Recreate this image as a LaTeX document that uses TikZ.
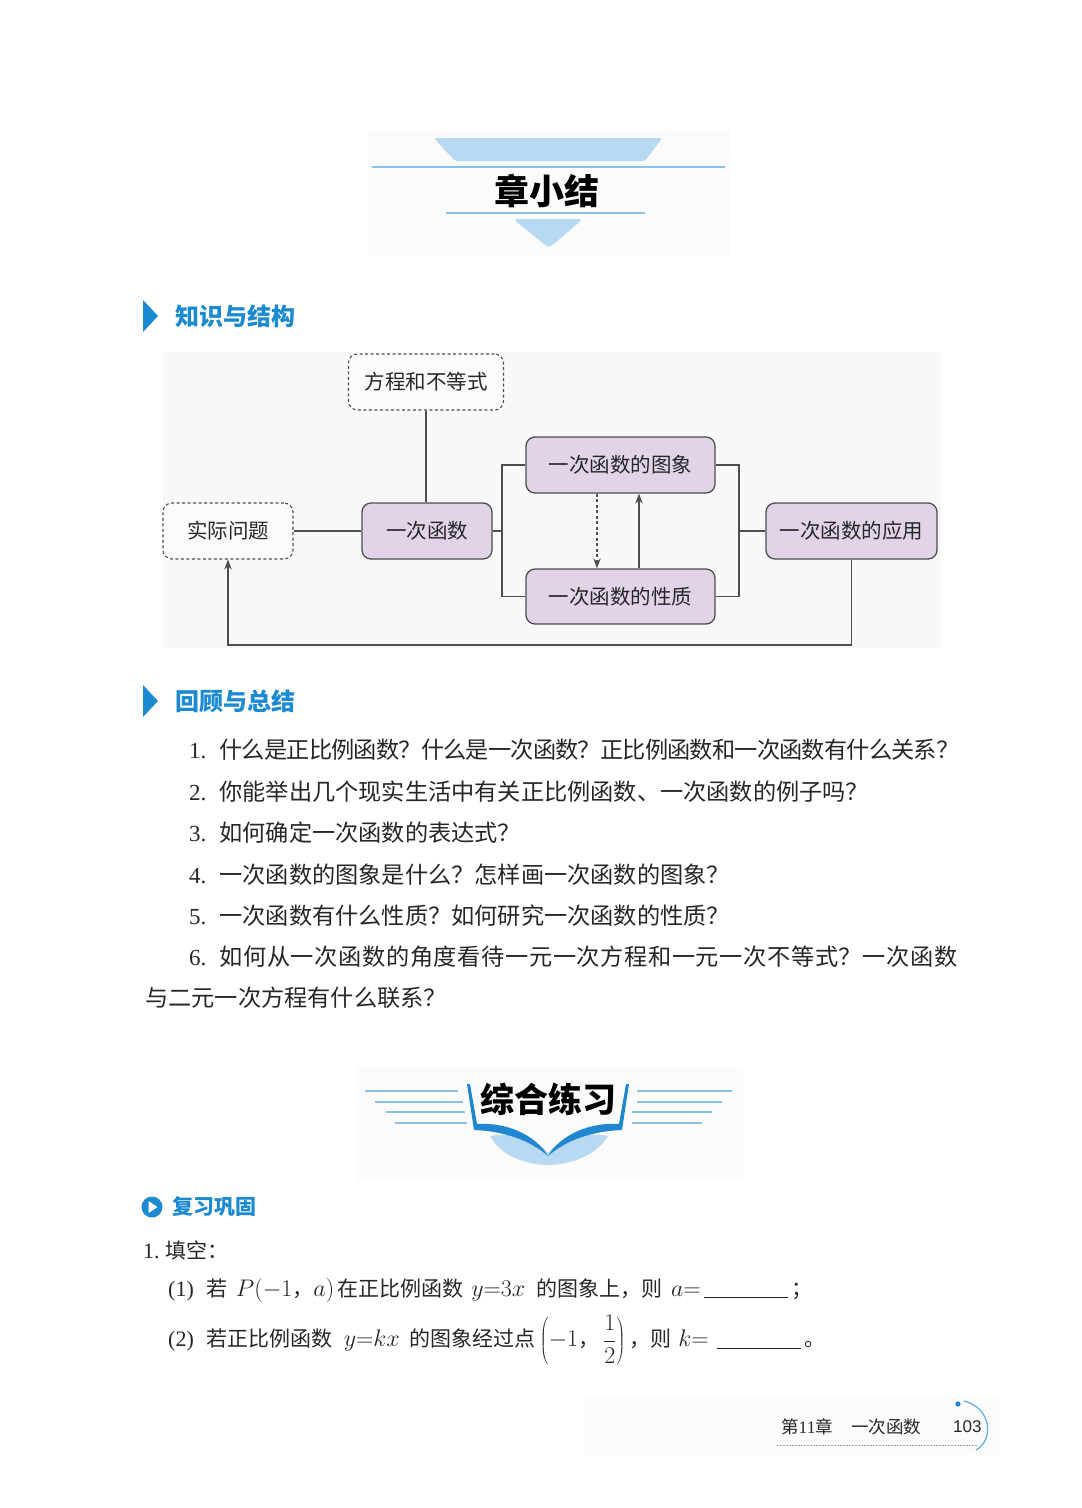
\RequirePackage{fix-cm}
\documentclass[tikz,border=0pt]{standalone}
\usepackage{fontspec}
\setmainfont{Liberation Serif}
\newfontfamily\cjk{Noto Sans CJK SC}
\newfontfamily\lsans{Liberation Sans}
\usetikzlibrary{arrows.meta}
\definecolor{headblue}{HTML}{1B8AD0}
\definecolor{bannerblue}{HTML}{B7D9F1}
\definecolor{lineblue}{HTML}{86C2E8}
\definecolor{bookblue}{HTML}{1E87CF}
\definecolor{boxpurple}{HTML}{E1D3E8}
\definecolor{edgegray}{HTML}{4E4E4E}
\definecolor{diagbg}{HTML}{F8F8F8}
\definecolor{faintbg}{HTML}{FBFBFB}
\definecolor{textcol}{HTML}{262626}
\def\spreadit#1{\spreadB#1\relax}
\def\spreadB#1{#1\spreadC}
\def\spreadC#1{\ifx#1\relax\else\hskip 0pt plus 1fil minus 1fil#1\expandafter\spreadC\fi}
\newcommand\mth[1]{{\fontsize{24}{28}\selectfont$#1$}}
\newcommand\num[1]{{\rmfamily\fontsize{23}{27}\selectfont #1}}
\begin{document}
\begin{tikzpicture}[x=1pt,y=-1pt,
  box/.style={draw=edgegray, fill=boxpurple, rounded corners=9pt, line width=1.3pt,
    minimum height=56pt, inner sep=0pt, font=\fontsize{20.5}{24}\selectfont\cjk, text=textcol},
  dbox/.style={draw=edgegray, dash pattern=on 3pt off 2.5pt, rounded corners=9pt, line width=1.1pt,
    fill=white!50!diagbg, minimum height=56pt, inner sep=0pt, font=\fontsize{20.5}{24}\selectfont\cjk, text=textcol},
  conn/.style={draw=edgegray, line width=1.1pt},
  tip/.style={-{Stealth[length=10pt,width=7.5pt]}},
  secmark/.style={fill=headblue},
  sectitle/.style={anchor=west, inner sep=0pt, text=headblue, font=\fontsize{24}{27}\selectfont\cjk\bfseries},
  bodyline/.style={anchor=west, inner sep=0pt, text=textcol, font=\fontsize{23.2}{27}\selectfont\cjk},
  qline/.style={anchor=west, inner sep=0pt, text=textcol, font=\fontsize{21}{25}\selectfont\cjk},
  bline/.style={lineblue, line width=1.4pt}
]
\useasboundingbox (0,0) rectangle (1082,1508);
\fill[white] (0,0) rectangle (1082,1508);

% ---------- chapter summary header ----------
\fill[faintbg] (368,130) rectangle (730,255);
\fill[bannerblue, rounded corners=2pt] (434,138) -- (662,138) -- (645,161) -- (455,161) -- cycle;
\draw[bline] (372,167) -- (725,167);
\node[inner sep=0pt, font=\fontsize{35}{38}\selectfont\cjk\bfseries] (title) at (547,191) {章小结};
\draw[bline] (446,213) -- (645,213);
\fill[bannerblue, rounded corners=4pt] (513,219) -- (583,219) -- (549,248) -- cycle;

% ---------- section: knowledge and structure ----------
\fill[secmark] (143,300) -- (158,316) -- (143,332) -- cycle;
\node[sectitle] (sec1) at (175,316) {知识与结构};

% ---------- diagram ----------
\fill[diagbg] (163,352) rectangle (941,648);
\node[dbox, minimum width=155pt] (fc) at (426,382) {方程和不等式};
\node[dbox, minimum width=130pt] (sj) at (228,531) {实际问题};
\node[box, minimum width=130pt] (yc) at (427,531) {一次函数};
\node[box, minimum width=189pt] (tx) at (620.5,465) {一次函数的图象};
\node[box, minimum width=189pt, minimum height=55pt] (xz) at (620.5,596.5) {一次函数的性质};
\node[box, minimum width=171pt] (yy) at (851.5,531) {一次函数的应用};
\coordinate (lb) at (502,531);
\coordinate (rb) at (739,531);
\coordinate (loop) at (851.5,645);

\draw[conn] (fc.south) -- (fc.south |- yc.north);
\draw[conn] (sj.east) -- (yc.west);
\draw[conn] (yc.east) -- (lb);
\draw[conn] (tx.west) -| (lb);
\draw[conn] (xz.west) -| (lb);
\draw[conn] (tx.east) -| (rb);
\draw[conn] (xz.east) -| (rb);
\draw[conn] (rb) -- (yy.west);
\draw[conn, dash pattern=on 3pt off 2.5pt, tip]
  ([xshift=-23.5pt]tx.south) -- ([xshift=-23.5pt]xz.north);
\draw[conn, tip]
  ([xshift=18.5pt]xz.north) -- ([xshift=18.5pt]tx.south);
\draw[conn, tip]
  (yy.south) -- (loop) -| (sj.south);

% ---------- section: review and summary ----------
\fill[secmark] (143,685) -- (158,701) -- (143,717) -- cycle;
\node[sectitle] (sec2) at (175,701) {回顾与总结};

\node[bodyline] (r1) at (189,750) {\num{1.}\hspace{13pt}\makebox[740pt][s]{\spreadit{什么是正比例函数？什么是一次函数？正比例函数和一次函数有什么关系？}}};
\node[bodyline] (r2) at (189,792) {\num{2.}\hspace{13pt}你能举出几个现实生活中有关正比例函数、一次函数的例子吗？};
\node[bodyline] (r3) at (189,833) {\num{3.}\hspace{13pt}如何确定一次函数的表达式？};
\node[bodyline] (r4) at (189,875) {\num{4.}\hspace{13pt}一次函数的图象是什么？怎样画一次函数的图象？};
\node[bodyline] (r5) at (189,916) {\num{5.}\hspace{13pt}一次函数有什么性质？如何研究一次函数的性质？};
\node[bodyline] (r6) at (189,957) {\num{6.}\hspace{13pt}\makebox[738pt][s]{\spreadit{如何从一次函数的角度看待一元一次方程和一元一次不等式？一次函数}}};
\node[bodyline] (r7) at (145,998) {与二元一次方程有什么联系？};

% ---------- comprehensive exercise banner ----------
\fill[faintbg] (357,1067) rectangle (743,1180);
\draw[bline] (365,1091) -- (458,1091);
\draw[bline] (375,1102) -- (463,1102);
\draw[bline] (386,1112) -- (465,1112);
\draw[bline] (395,1123) -- (467,1123);
\draw[bline] (637,1091) -- (732,1091);
\draw[bline] (637,1102) -- (722,1102);
\draw[bline] (632,1112) -- (712,1112);
\draw[bline] (632,1123) -- (702,1123);
\fill[bannerblue] (490,1136) .. controls (515,1131) and (538,1140) .. (548,1153)
  .. controls (558,1140) and (581,1131) .. (608,1136)
  .. controls (597,1154) and (575,1164) .. (548,1165)
  .. controls (521,1164) and (500,1154) .. (490,1136) -- cycle;
\fill[bookblue] (467,1084) -- (470,1084) -- (477,1124)
  .. controls (505,1122) and (535,1134) .. (548,1156)
  .. controls (530,1140) and (503,1131) .. (474,1130) -- cycle;
\fill[bookblue] (629,1084) -- (626,1084) -- (619,1124)
  .. controls (591,1122) and (561,1134) .. (548,1156)
  .. controls (566,1140) and (593,1131) .. (622,1130) -- cycle;
\node[inner sep=0pt, font=\fontsize{34}{38}\selectfont\cjk\bfseries] (title2) at (548,1099) {综合练习};

% ---------- section: review and consolidation ----------
\fill[headblue] (152,1207) circle (10.5pt);
\fill[white] (148.5,1201) -- (157.5,1207) -- (148.5,1213) -- cycle;
\node[sectitle, font=\fontsize{21}{24}\selectfont\cjk\bfseries] (sec3) at (172,1207) {复习巩固};

\node[qline] (q0) at (143,1250) {{\rmfamily\fontsize{22}{26}\selectfont 1.}\hspace{6pt}填空：};
\node[qline] (q1) at (168,1290) {{\rmfamily\fontsize{22}{26}\selectfont (1)}\hspace{13pt}若\hspace{8pt}\mth{P(-1}\mbox{，}\mth{a)}\hspace{3pt}在正比例函数\hspace{8pt}\mth{y{=}3x}\hspace{11pt}的图象上，则\hspace{9pt}\mth{a{=}}\hspace{3pt}\rule[-2pt]{84pt}{0.8pt}\hspace{4pt}；};
\node[qline] (q2) at (168,1340) {{\rmfamily\fontsize{22}{26}\selectfont (2)}\hspace{13pt}若正比例函数\hspace{11pt}\mth{y{=}kx}\hspace{10pt}的图象经过点\hspace{4pt}\mth{\left(-1\mbox{\fontsize{21}{25}\selectfont\cjk ，}\,{\displaystyle\frac{1}{2}}\right)}\hspace{4pt}，则\hspace{7pt}\mth{k{=}}\hspace{8pt}\rule[-2pt]{84pt}{0.8pt}\hspace{4pt}。};

% ---------- footer ----------
\fill[faintbg] (585,1398) rectangle (1000,1455);
\node[anchor=west, inner sep=0pt, text=textcol, font=\fontsize{17.5}{20}\selectfont\cjk] (ft) at (781,1427) {第{\rmfamily 11}章\hspace{18pt}一次函数};
\node[anchor=west, inner sep=0pt, text=textcol, font=\fontsize{17}{19}\selectfont\lsans] (pg) at (953,1427) {103};
\draw[gray!70, line width=0.8pt, dash pattern=on 1.5pt off 1.5pt] (777,1445) -- (977,1445);
\fill[bookblue] (958,1404) circle (2.6pt);
\draw[bookblue!70, line width=1.2pt] (964,1401) .. controls (992,1408) and (994,1440) .. (976,1450);
\end{tikzpicture}
\end{document}
